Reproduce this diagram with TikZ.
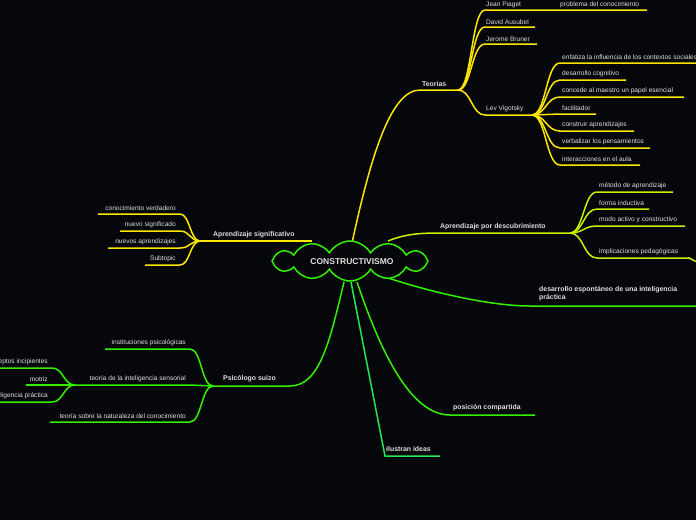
\documentclass[tikz,border=0pt]{standalone}
\usepackage{fontspec}
\setmainfont{Liberation Sans}
\usetikzlibrary{shapes.symbols}
\definecolor{bg}{HTML}{05070A}
\definecolor{yl}{HTML}{FFE600}
\definecolor{gr}{HTML}{33F000}
\definecolor{lm}{HTML}{C8F000}
\definecolor{tg}{HTML}{22E855}
\tikzset{
 txt/.style={text=white!88!black,font=\fontsize{6.6}{7}\selectfont,inner sep=0pt,anchor=south west},
 rtxt/.style={txt,anchor=south east},
 btxt/.style={txt,font=\bfseries\fontsize{6.9}{8.4}\selectfont},
 br/.style={line width=1.5pt}
}
\newcommand{\kidR}[6]{\draw[br,#1] (#2,#3) .. controls +({(#4-#2)/2},0) and +({-(#4-#2)/2},0) .. (#4,#6) -- (#5,#6);}
\newcommand{\kidL}[6]{\draw[br,#1] (#2,#3) .. controls +({(#4-#2)/2},0) and +({-(#4-#2)/2},0) .. (#4,#6) -- (#5,#6);}
\begin{document}
\begin{tikzpicture}[x=1pt,y=-1pt]
\fill[bg] (0,0) rectangle (696,520);
\useasboundingbox (0,0) rectangle (696,520);
\begin{scope}
\clip (0,0) rectangle (696,520);
% Teorias
\draw[br,yl] (352,243) .. controls (370,160) and (390,90) .. (420,90) -- (458,90);
\node[btxt] (teo) at (422,87) {Teorias};
\kidR{yl}{458}{90}{485}{647}{10}
\kidR{yl}{458}{90}{485}{535}{27}
\kidR{yl}{458}{90}{485}{537}{44}
\kidR{yl}{458}{90}{485}{532}{115}
\node[txt] (jp) at (486,8) {Jean Piaget};
\node[txt] (pc) at (560,8) {problema del conocimiento};
\node[txt] (da) at (486,25) {David Ausubel};
\node[txt] (jb) at (486,42) {Jerome Bruner};
\node[txt] (lv) at (486,112) {Lev Vigotsky};
\foreach \y/\e/\t [count=\i] in {63/696/enfatiza la influencia de los contextos sociales,80/626/desarrollo cognitivo,97/684/concede al maestro un papel esencial,114/596/facilitador,131/634/construir aprendizajes,148/650/verbalizar los pensamientos,165/640/interacciones en el aula}{
 \kidR{yl}{532}{115}{560}{\e}{\y}
 \node[txt] (lv\i) at (562,\y-3) {\t};
}
% Aprendizaje significativo
\draw[br,yl] (312,241) -- (200,241);
\node[btxt] (as) at (213,238) {Aprendizaje significativo};
\foreach \y/\s/\t [count=\i] in {214/98/conocimiento verdadero,231/120/nuevo significado,248/108/nuevos aprendizajes,265/145/Subtopic}{
 \kidL{yl}{200}{241}{180}{\s}{\y}
 \node[rtxt] (as\i) at (176,\y-3) {\t};
}
% Aprendizaje por descubrimiento
\draw[br,lm] (388,241) .. controls (405,234) and (420,233) .. (440,233) -- (570,233);
\node[btxt] (ad) at (440,230) {Aprendizaje por descubrimiento};
\foreach \y/\e/\t [count=\i] in {192/673/método de aprendizaje,209/649/forma inductiva,226/685/modo activo y constructivo,258/690/implicaciones pedagógicas}{
 \kidR{lm}{570}{233}{597}{\e}{\y}
 \node[txt] (ad\i) at (599,\y-3) {\t};
}
\draw[br,lm] (688,258) .. controls (692,258) and (693,262) .. (700,262);
% desarrollo espontaneo
\draw[br,gr] (385,277) .. controls (430,292) and (490,306) .. (530,306) -- (700,306);
\node[btxt,align=left,anchor=north west] (de) at (539,286) {desarrollo espontáneo de una inteligencia\\práctica};
% Psicologo suizo
\draw[br,gr] (344,282) .. controls (330,340) and (320,386) .. (290,386) -- (213,386);
\node[btxt] (ps) at (223,382) {Psicólogo suizo};
\kidL{gr}{213}{386}{190}{105}{349}
\kidL{gr}{213}{386}{190}{75}{385}
\kidL{gr}{213}{386}{190}{50}{422}
\node[rtxt] (ip) at (186,346) {instituciones psicológicas};
\node[rtxt] (ts) at (186,382) {teoría de la inteligencia sensorial};
\node[rtxt] (tn) at (186,419) {teoría sobre la naturaleza del conocimiento};
\kidL{gr}{75}{385}{52}{-5}{368}
\kidL{gr}{75}{385}{52}{26}{385}
\kidL{gr}{75}{385}{52}{-5}{402}
\node[rtxt] (ci) at (48,365) {conceptos incipientes};
\node[rtxt] (mo) at (48,382) {motriz};
\node[rtxt] (ipr) at (48,399) {inteligencia práctica};
% posicion compartida
\draw[br,gr] (357,282) .. controls (380,350) and (410,415) .. (450,415) -- (535,415);
\node[btxt] (pco) at (453,411) {posición compartida};
% ilustran ideas
\draw[br,tg] (351,282) -- (385,456) -- (440,456);
\node[btxt] (ii) at (386,452) {ilustran ideas};
\end{scope}
% cloud
\node[cloud,cloud puffs=12,cloud puff arc=120,aspect=4.0,draw=gr,line width=1.5pt,fill=bg,minimum width=156pt,minimum height=40pt,inner sep=0pt] (c) at (350,261) {};
\node[btxt,font=\bfseries\fontsize{8.5}{10}\selectfont,anchor=center] (ct) at (352,262) {CONSTRUCTIVISMO};
\end{tikzpicture}
\end{document}
